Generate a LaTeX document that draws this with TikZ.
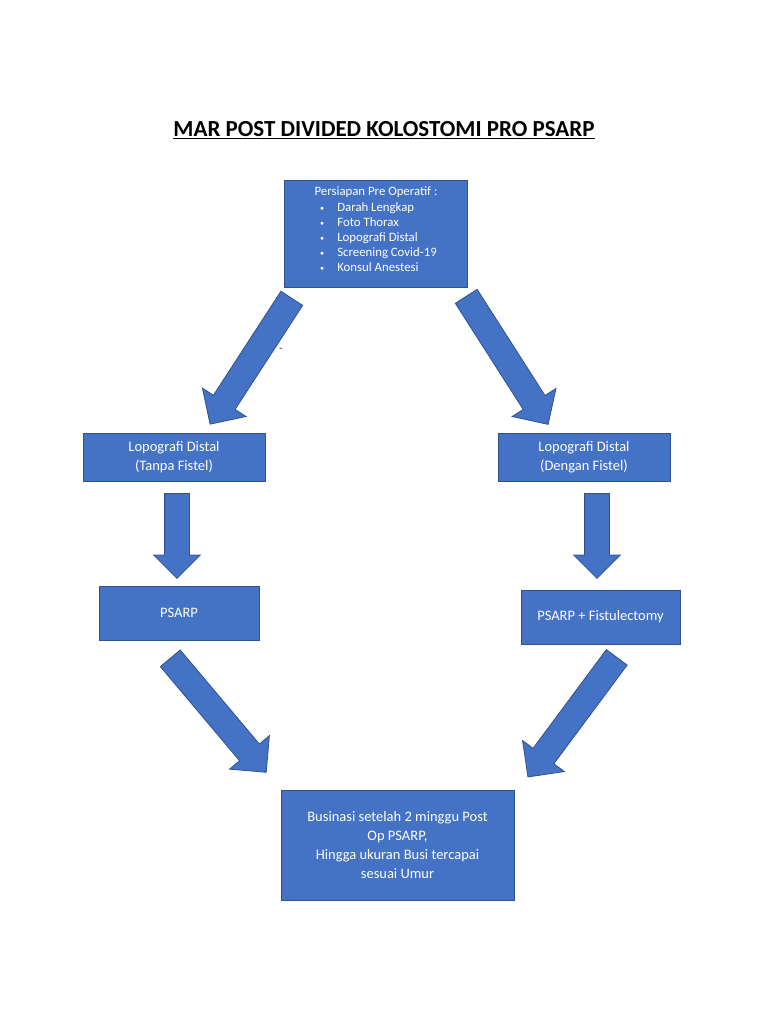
\documentclass[tikz,border=0pt]{standalone}
\usepackage{fontspec}
\setmainfont{Carlito}
\usetikzlibrary{shapes.arrows}
\definecolor{bfill}{HTML}{4472C4}
\definecolor{bline}{HTML}{2F528F}
\begin{document}
\begin{tikzpicture}[x=1pt,y=-1pt,
  box/.style={draw=bline,fill=bfill,line width=0.8pt,text=white,font=\fontsize{14.5}{19}\selectfont,align=center,inner sep=0pt},
  barrow/.style={single arrow,draw=bline,fill=bfill,line width=0.8pt,minimum width=52pt,single arrow head extend=13pt,single arrow head indent=0pt,inner xsep=0pt,inner ysep=12.5pt,anchor=tail}]
\useasboundingbox (0,0) rectangle (768,1024);
\node[font=\bfseries\fontsize{23}{26}\selectfont] (title) at (384,130) {\underline{MAR POST DIVIDED KOLOSTOMI PRO PSARP}};
\node[box,minimum width=183pt,minimum height=107pt] (top) at (375.5,233.5) {};
\node[white,font=\fontsize{12.8}{15}\selectfont,inner sep=0pt] (hdr) at (376,192) {Persiapan Pre Operatif :};
\node[white,font=\fontsize{12.8}{15.2}\selectfont,anchor=north west,align=left,inner sep=0pt] (list) at (320,202) {%
\raisebox{1pt}{\scriptsize$\bullet$}\hspace{13pt}Darah Lengkap\\
\raisebox{1pt}{\scriptsize$\bullet$}\hspace{13pt}Foto Thorax\\
\raisebox{1pt}{\scriptsize$\bullet$}\hspace{13pt}Lopografi Distal\\
\raisebox{1pt}{\scriptsize$\bullet$}\hspace{13pt}Screening Covid-19\\
\raisebox{1pt}{\scriptsize$\bullet$}\hspace{13pt}Konsul Anestesi};
\node[box,minimum width=182pt,minimum height=48pt] (l1) at (174,457) {Lopografi Distal\\(Tanpa Fistel)};
\node[box,minimum width=172pt,minimum height=48pt] (r1) at (584,457) {Lopografi Distal\\(Dengan Fistel)};
\node[box,minimum width=160pt,minimum height=54pt] (l2) at (179,613) {PSARP};
\node[box,minimum width=159pt,minimum height=54pt] (r2) at (600.5,617) {PSARP + Fistulectomy};
\node[box,minimum width=233pt,minimum height=110pt] (bot) at (397.5,845) {Businasi setelah 2 minggu Post\\Op PSARP,\\Hingga ukuran Busi tercapai\\sesuai Umur};
\node[font=\fontsize{10}{12}\selectfont] (dash) at (281,350) {-};
\coordinate (a1) at (292,298);
\coordinate (a2) at (466,296);
\coordinate (a3) at (177,493);
\coordinate (a4) at (597,493);
\coordinate (a5) at (170,658);
\coordinate (a6) at (617,657);
\node[barrow,minimum height=150pt,rotate=237] (ar1) at (a1) {};
\node[barrow,minimum height=152pt,rotate=302.6] (ar2) at (a2) {};
\node[barrow,minimum height=85pt,minimum width=46pt,inner ysep=12pt,single arrow head extend=11pt,rotate=270] (ar3) at (a3) {};
\node[barrow,minimum height=85pt,minimum width=46pt,inner ysep=12pt,single arrow head extend=11pt,rotate=270] (ar4) at (a4) {};
\node[barrow,minimum height=149pt,rotate=-49.9] (ar5) at (a5) {};
\node[barrow,minimum height=149pt,rotate=233.4] (ar6) at (a6) {};
\end{tikzpicture}
\end{document}
